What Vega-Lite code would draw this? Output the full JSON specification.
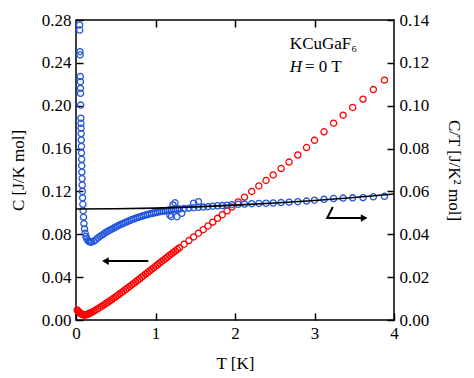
{
  "$schema": "https://vega.github.io/schema/vega-lite/v6.json",
  "width": 318,
  "height": 300,
  "autosize": "none",
  "padding": {"left": 76, "top": 20, "right": 80, "bottom": 58},
  "background": "white",
  "datasets": {
    "red": [
      {"T": 0.015, "C": 0.0094}, {"T": 0.025, "C": 0.0085}, {"T": 0.035, "C": 0.0076}, {"T": 0.045, "C": 0.0068},
      {"T": 0.055, "C": 0.0062}, {"T": 0.065, "C": 0.0057}, {"T": 0.075, "C": 0.0053}, {"T": 0.085, "C": 0.0050},
      {"T": 0.095, "C": 0.0048}, {"T": 0.105, "C": 0.0047}, {"T": 0.115, "C": 0.0047}, {"T": 0.125, "C": 0.0049},
      {"T": 0.135, "C": 0.0051}, {"T": 0.145, "C": 0.0053}, {"T": 0.155, "C": 0.0057}, {"T": 0.165, "C": 0.0060},
      {"T": 0.175, "C": 0.0064}, {"T": 0.185, "C": 0.0067},
      {"T": 0.200, "C": 0.00728}, {"T": 0.225, "C": 0.00828}, {"T": 0.250, "C": 0.00938}, {"T": 0.275, "C": 0.01053},
      {"T": 0.300, "C": 0.01170}, {"T": 0.325, "C": 0.01287}, {"T": 0.350, "C": 0.01407}, {"T": 0.375, "C": 0.01534},
      {"T": 0.400, "C": 0.01656}, {"T": 0.425, "C": 0.01781}, {"T": 0.450, "C": 0.01908}, {"T": 0.475, "C": 0.02038},
      {"T": 0.500, "C": 0.02170}, {"T": 0.525, "C": 0.02305}, {"T": 0.550, "C": 0.02442}, {"T": 0.575, "C": 0.02576},
      {"T": 0.600, "C": 0.02712}, {"T": 0.625, "C": 0.02850}, {"T": 0.650, "C": 0.02990}, {"T": 0.675, "C": 0.03132},
      {"T": 0.700, "C": 0.03276}, {"T": 0.725, "C": 0.03415}, {"T": 0.750, "C": 0.03563}, {"T": 0.775, "C": 0.03705},
      {"T": 0.800, "C": 0.03848}, {"T": 0.825, "C": 0.03993}, {"T": 0.850, "C": 0.04140}, {"T": 0.875, "C": 0.04288},
      {"T": 0.900, "C": 0.04428}, {"T": 0.925, "C": 0.04579}, {"T": 0.950, "C": 0.04722}, {"T": 0.975, "C": 0.04865},
      {"T": 1.000, "C": 0.05010}, {"T": 1.025, "C": 0.05156}, {"T": 1.050, "C": 0.05303}, {"T": 1.075, "C": 0.05450},
      {"T": 1.100, "C": 0.05588}, {"T": 1.125, "C": 0.05738}, {"T": 1.150, "C": 0.05877}, {"T": 1.175, "C": 0.06028},
      {"T": 1.200, "C": 0.06168}, {"T": 1.225, "C": 0.06309}, {"T": 1.250, "C": 0.06450}, {"T": 1.275, "C": 0.06592},
      {"T": 1.300, "C": 0.06734},
      {"T": 1.36, "C": 0.07072}, {"T": 1.42, "C": 0.07412}, {"T": 1.48, "C": 0.07755}, {"T": 1.54, "C": 0.08100},
      {"T": 1.60, "C": 0.08432}, {"T": 1.66, "C": 0.08781}, {"T": 1.72, "C": 0.09133}, {"T": 1.78, "C": 0.09487},
      {"T": 1.84, "C": 0.09826}, {"T": 1.90, "C": 0.10184}, {"T": 1.96, "C": 0.10545},
      {"T": 2.04, "C": 0.11016}, {"T": 2.12, "C": 0.11469}, {"T": 2.21, "C": 0.12000}, {"T": 2.30, "C": 0.12512},
      {"T": 2.39, "C": 0.13026}, {"T": 2.48, "C": 0.13541}, {"T": 2.58, "C": 0.14138}, {"T": 2.68, "C": 0.14740},
      {"T": 2.79, "C": 0.15401}, {"T": 2.90, "C": 0.16095}, {"T": 3.00, "C": 0.16770}, {"T": 3.12, "C": 0.17566},
      {"T": 3.24, "C": 0.18371}, {"T": 3.36, "C": 0.19118}, {"T": 3.48, "C": 0.19836}, {"T": 3.61, "C": 0.20613},
      {"T": 3.74, "C": 0.21505}, {"T": 3.88, "C": 0.22388}
    ],
    "blue": [
      {"T": 0.045, "CT": 0.1377}, {"T": 0.047, "CT": 0.1353}, {"T": 0.050, "CT": 0.1252}, {"T": 0.051, "CT": 0.1237},
      {"T": 0.054, "CT": 0.1136}, {"T": 0.055, "CT": 0.1112}, {"T": 0.056, "CT": 0.1081}, {"T": 0.057, "CT": 0.1058},
      {"T": 0.059, "CT": 0.1003}, {"T": 0.061, "CT": 0.0942}, {"T": 0.062, "CT": 0.0918}, {"T": 0.063, "CT": 0.0895},
      {"T": 0.065, "CT": 0.0870}, {"T": 0.066, "CT": 0.0840}, {"T": 0.068, "CT": 0.0810}, {"T": 0.069, "CT": 0.0780},
      {"T": 0.071, "CT": 0.0750}, {"T": 0.072, "CT": 0.0720}, {"T": 0.074, "CT": 0.0690}, {"T": 0.076, "CT": 0.0660},
      {"T": 0.078, "CT": 0.0630}, {"T": 0.080, "CT": 0.0600}, {"T": 0.083, "CT": 0.0570}, {"T": 0.086, "CT": 0.0540},
      {"T": 0.090, "CT": 0.0510}, {"T": 0.094, "CT": 0.0480}, {"T": 0.100, "CT": 0.0450}, {"T": 0.107, "CT": 0.0425},
      {"T": 0.115, "CT": 0.0405}, {"T": 0.125, "CT": 0.0390}, {"T": 0.135, "CT": 0.0380}, {"T": 0.150, "CT": 0.0371},
      {"T": 0.165, "CT": 0.0366}, {"T": 0.180, "CT": 0.0364}, {"T": 0.195, "CT": 0.0364},
      {"T": 0.225, "CT": 0.0368}, {"T": 0.250, "CT": 0.0375}, {"T": 0.275, "CT": 0.0383}, {"T": 0.300, "CT": 0.0390},
      {"T": 0.325, "CT": 0.0396}, {"T": 0.350, "CT": 0.0402}, {"T": 0.375, "CT": 0.0409}, {"T": 0.400, "CT": 0.0414},
      {"T": 0.425, "CT": 0.0419}, {"T": 0.450, "CT": 0.0424}, {"T": 0.475, "CT": 0.0429}, {"T": 0.500, "CT": 0.0434},
      {"T": 0.525, "CT": 0.0439}, {"T": 0.550, "CT": 0.0444}, {"T": 0.575, "CT": 0.0448}, {"T": 0.600, "CT": 0.0452},
      {"T": 0.625, "CT": 0.0456}, {"T": 0.650, "CT": 0.0460}, {"T": 0.675, "CT": 0.0464}, {"T": 0.700, "CT": 0.0468},
      {"T": 0.725, "CT": 0.0471}, {"T": 0.750, "CT": 0.0475}, {"T": 0.775, "CT": 0.0478}, {"T": 0.800, "CT": 0.0481},
      {"T": 0.825, "CT": 0.0484}, {"T": 0.850, "CT": 0.0487}, {"T": 0.875, "CT": 0.0490}, {"T": 0.900, "CT": 0.0492},
      {"T": 0.925, "CT": 0.0495}, {"T": 0.950, "CT": 0.0497}, {"T": 0.975, "CT": 0.0499}, {"T": 1.000, "CT": 0.0501},
      {"T": 1.025, "CT": 0.0503}, {"T": 1.050, "CT": 0.0505}, {"T": 1.075, "CT": 0.0507}, {"T": 1.100, "CT": 0.0508},
      {"T": 1.125, "CT": 0.0510}, {"T": 1.150, "CT": 0.0511}, {"T": 1.175, "CT": 0.0513}, {"T": 1.200, "CT": 0.0514},
      {"T": 1.225, "CT": 0.0515}, {"T": 1.250, "CT": 0.0516}, {"T": 1.275, "CT": 0.0517}, {"T": 1.300, "CT": 0.0518},
      {"T": 1.18, "CT": 0.0490}, {"T": 1.20, "CT": 0.0482}, {"T": 1.22, "CT": 0.0537}, {"T": 1.245, "CT": 0.0547},
      {"T": 1.27, "CT": 0.0482}, {"T": 1.33, "CT": 0.0498}, {"T": 1.48, "CT": 0.0545}, {"T": 1.54, "CT": 0.0552},
      {"T": 1.36, "CT": 0.0520}, {"T": 1.42, "CT": 0.0522}, {"T": 1.48, "CT": 0.0524}, {"T": 1.54, "CT": 0.0526},
      {"T": 1.60, "CT": 0.0527}, {"T": 1.66, "CT": 0.0529}, {"T": 1.72, "CT": 0.0531}, {"T": 1.78, "CT": 0.0533},
      {"T": 1.84, "CT": 0.0534}, {"T": 1.90, "CT": 0.0536}, {"T": 1.96, "CT": 0.0538},
      {"T": 2.04, "CT": 0.0540}, {"T": 2.12, "CT": 0.0541}, {"T": 2.21, "CT": 0.0543}, {"T": 2.30, "CT": 0.0544},
      {"T": 2.39, "CT": 0.0545}, {"T": 2.48, "CT": 0.0546}, {"T": 2.58, "CT": 0.0548}, {"T": 2.68, "CT": 0.0550},
      {"T": 2.79, "CT": 0.0552}, {"T": 2.90, "CT": 0.0555}, {"T": 3.00, "CT": 0.0559}, {"T": 3.12, "CT": 0.0563},
      {"T": 3.24, "CT": 0.0567}, {"T": 3.36, "CT": 0.0569}, {"T": 3.48, "CT": 0.0570}, {"T": 3.61, "CT": 0.0571},
      {"T": 3.74, "CT": 0.0575}, {"T": 3.88, "CT": 0.0577}
    ],
    "fit": [
      {"T": 0.0, "CT": 0.0518}, {"T": 0.5, "CT": 0.0519}, {"T": 1.0, "CT": 0.0522}, {"T": 1.5, "CT": 0.0528},
      {"T": 2.0, "CT": 0.0536}, {"T": 2.5, "CT": 0.0546}, {"T": 3.0, "CT": 0.0558}, {"T": 3.5, "CT": 0.0572},
      {"T": 4.0, "CT": 0.0588}
    ],
    "arrowL": [{"T": 0.38, "C": 0.055}, {"T": 0.91, "C": 0.055}],
    "headL": [{"T": 0.37, "C": 0.055}],
    "arrowR": [{"T": 3.23, "CT": 0.0527, "o": 1}, {"T": 3.16, "CT": 0.0476, "o": 2}, {"T": 3.62, "CT": 0.0476, "o": 3}],
    "headR": [{"T": 3.625, "CT": 0.0476}],
    "txt": [{"T": 2.69, "C": 0.2576, "t": "KCuGaF₆"}, {"T": 2.88, "C": 0.2364, "t": "= 0 T"}],
    "txtI": [{"T": 2.69, "C": 0.2364, "t": "H"}]
  },
  "layer": [
    {
      "data": {"name": "red"},
      "mark": {"type": "point", "shape": "circle", "filled": false, "color": "#ff0000", "size": 38, "strokeWidth": 1.3, "opacity": 1},
      "encoding": {
        "x": {"field": "T", "type": "quantitative", "scale": {"domain": [0, 4], "nice": false, "zero": false},
              "axis": {"orient": "bottom", "title": "T [K]", "values": [0, 1, 2, 3, 4], "format": "d", "labelFlush": false, "titlePadding": 14, "labelPadding": 5, "offset": -7}},
        "y": {"field": "C", "type": "quantitative", "scale": {"domain": [0, 0.28], "nice": false},
              "axis": {"orient": "left", "title": "C [J/K mol]", "values": [0, 0.04, 0.08, 0.12, 0.16, 0.2, 0.24, 0.28], "format": ".2f", "labelPadding": 5, "titlePadding": 14, "offset": -7}}
      }
    },
    {
      "data": {"name": "blue"},
      "mark": {"type": "point", "shape": "circle", "filled": false, "color": "#2255dd", "size": 38, "strokeWidth": 1.3, "opacity": 1},
      "encoding": {
        "x": {"field": "T", "type": "quantitative", "scale": {"domain": [0, 4], "nice": false, "zero": false},
              "axis": {"orient": "top", "title": null, "values": [1, 2, 3], "labels": false, "offset": -7}},
        "y": {"field": "CT", "type": "quantitative", "scale": {"domain": [0, 0.14], "nice": false},
              "axis": {"orient": "right", "title": "C/T [J/K² mol]", "values": [0, 0.02, 0.04, 0.06, 0.08, 0.1, 0.12, 0.14], "format": ".2f", "labelPadding": 5, "titlePadding": 16, "offset": -7}}
      }
    },
    {
      "data": {"name": "fit"},
      "mark": {"type": "line", "color": "black", "strokeWidth": 1.6},
      "encoding": {
        "x": {"field": "T", "type": "quantitative", "scale": {"domain": [0, 4], "nice": false, "zero": false}, "axis": null},
        "y": {"field": "CT", "type": "quantitative", "scale": {"domain": [0, 0.14], "nice": false}, "axis": null}
      }
    },
    {
      "data": {"name": "arrowL"},
      "mark": {"type": "line", "color": "black", "strokeWidth": 2},
      "encoding": {
        "x": {"field": "T", "type": "quantitative", "scale": {"domain": [0, 4], "nice": false, "zero": false}, "axis": null},
        "y": {"field": "C", "type": "quantitative", "scale": {"domain": [0, 0.28], "nice": false}, "axis": null}
      }
    },
    {
      "data": {"name": "headL"},
      "mark": {"type": "point", "shape": "triangle-left", "filled": true, "color": "black", "size": 60, "opacity": 1},
      "encoding": {
        "x": {"field": "T", "type": "quantitative", "scale": {"domain": [0, 4], "nice": false, "zero": false}, "axis": null},
        "y": {"field": "C", "type": "quantitative", "scale": {"domain": [0, 0.28], "nice": false}, "axis": null}
      }
    },
    {
      "data": {"name": "arrowR"},
      "mark": {"type": "line", "color": "black", "strokeWidth": 2},
      "encoding": {
        "x": {"field": "T", "type": "quantitative", "scale": {"domain": [0, 4], "nice": false, "zero": false}, "axis": null},
        "y": {"field": "CT", "type": "quantitative", "scale": {"domain": [0, 0.14], "nice": false}, "axis": null},
        "order": {"field": "o", "type": "quantitative"}
      }
    },
    {
      "data": {"name": "headR"},
      "mark": {"type": "point", "shape": "triangle-right", "filled": true, "color": "black", "size": 60, "opacity": 1},
      "encoding": {
        "x": {"field": "T", "type": "quantitative", "scale": {"domain": [0, 4], "nice": false, "zero": false}, "axis": null},
        "y": {"field": "CT", "type": "quantitative", "scale": {"domain": [0, 0.14], "nice": false}, "axis": null}
      }
    },
    {
      "data": {"name": "txt"},
      "mark": {"type": "text", "align": "left", "baseline": "middle", "font": "Liberation Serif", "fontSize": 17, "color": "black"},
      "encoding": {
        "x": {"field": "T", "type": "quantitative", "scale": {"domain": [0, 4], "nice": false, "zero": false}, "axis": null},
        "y": {"field": "C", "type": "quantitative", "scale": {"domain": [0, 0.28], "nice": false}, "axis": null},
        "text": {"field": "t"}
      }
    },
    {
      "data": {"name": "txtI"},
      "mark": {"type": "text", "align": "left", "baseline": "middle", "font": "Liberation Serif", "fontSize": 17, "fontStyle": "italic", "color": "black"},
      "encoding": {
        "x": {"field": "T", "type": "quantitative", "scale": {"domain": [0, 4], "nice": false, "zero": false}, "axis": null},
        "y": {"field": "C", "type": "quantitative", "scale": {"domain": [0, 0.28], "nice": false}, "axis": null},
        "text": {"field": "t"}
      }
    }
  ],
  "resolve": {"scale": {"y": "independent"}, "axis": {"x": "independent", "y": "independent"}},
  "config": {
    "view": {"stroke": "black", "strokeWidth": 1.5},
    "axis": {
      "grid": false,
      "domain": false,
      "labelFont": "Liberation Serif",
      "labelFontSize": 17,
      "labelColor": "black",
      "titleFont": "Liberation Serif",
      "titleFontSize": 17,
      "titleFontWeight": "normal",
      "titleColor": "black",
      "tickColor": "black",
      "tickWidth": 1.5,
      "tickSize": 7,
      "labelBound": false,
      "labelOverlap": false
    }
  }
}
